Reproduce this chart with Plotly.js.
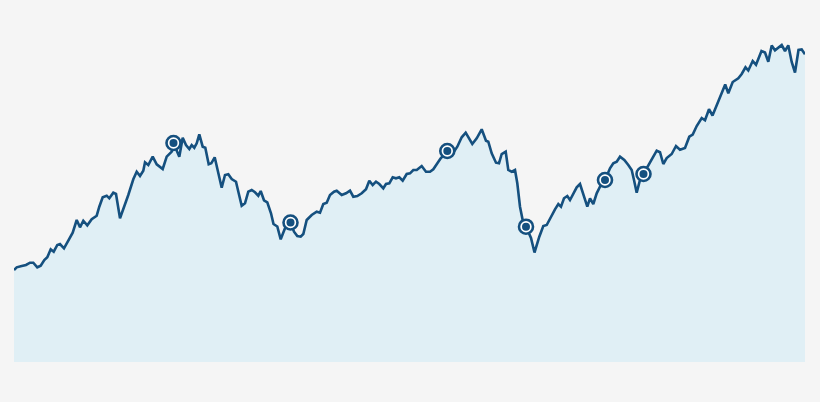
<!DOCTYPE html>
<html>
<head>
<meta charset="utf-8">
<script src="https://cdn.plot.ly/plotly-3.0.1.min.js"></script>
<style>
html,body{margin:0;padding:0;background:#f5f5f5;}
#chart{width:820px;height:402px;}
</style>
</head>
<body>
<div id="chart"></div>
<script>
// time index of each observation
var t = [14,16.7,21.7,26,30,33.3,37.3,40.7,44.3,47.3,50.7,53.7,57.3,60,64,68.3,72.7,76.7,80,83.3,87.3,91.7,96.7,99.3,102.7,106.7,109.3,113.3,116,120,123.3,128.3,133.3,136.7,140,143.3,145,148.3,152.7,156.7,162.7,166.7,171.7,173.5,179.3,182.7,186,189.3,191.7,194.3,196.7,199.3,202.7,205.3,208.7,211.3,214.7,218,221.7,225,228.3,231.7,236,238.7,241.7,245,248.3,251.7,255,258.3,260.7,264,267.3,271,273.5,277.3,280.7,285,290.5,294,297.3,300.7,303.3,306.7,311.7,316.7,320,323.3,326.7,330,334,336.7,341.7,346,350,353.3,357.3,361.7,366,369.3,372.7,376,379.3,383.3,386,389.3,392.7,396,399.3,402.7,406.7,410,413.3,416.7,421.7,426,430,433.3,437.3,440.7,447.3,454,457.3,461.7,465.7,469,472.3,476.7,481.7,486,488.3,491.7,496,499,501.7,505.7,508.3,511.7,515,517.3,520,523.3,526,531,534.5,539.3,543.3,546.7,550.7,555,558.3,561,564,567.3,570,573.3,576.7,580,583.3,587.3,590,593.3,596.7,600,605,610,613.3,616.7,620,624.3,628.3,631.7,634,636.7,640,643.5,650,653.3,656.7,660,663.3,666.7,671.7,676,680,685,689.3,692.7,696.7,701.7,705,709,712.5,716,720.5,725.2,728.3,732.7,738.3,741.7,745.5,748.3,752.7,756,761.5,765,768.3,771.7,775,778.3,781.7,785,788.3,791.7,795,798.5,801.7,805];
// series values
var values = [92,94.7,96,97,99.3,99.3,94.7,96.3,102,104.7,112.7,110.3,117,118,113.7,121.3,129.3,142,134.7,141.3,136.7,142.7,146.3,155.3,164.7,166.3,163.7,169.3,168,143.7,152.7,167,182.7,190.3,186,191.3,199.7,197,205.3,197.7,193,205.3,210.3,219,205.3,224.3,217,213,217,214.3,218.7,227.7,215.3,214.3,197.7,198.7,204.7,190.3,174.3,187,187.7,183,180.3,168.7,156.3,158.7,170.3,172,169.7,166.3,171,161.7,159.7,148.7,138,135.5,122.7,133.7,139.5,130.3,126,125.3,128,142,147,150.3,149.3,158,159.3,167,170.3,171.3,167,168.7,171.3,165.3,166,168.7,172.7,181.3,177,180.3,178,173.7,178,178.7,184.7,183.7,184.7,181.3,188,188.7,192,192,196,190.3,190.3,192.7,198,203.7,211,210.3,215.3,224.7,229.3,223.7,218,223.7,232.7,221.3,220.3,208.7,199.3,198.7,208,210.3,192,190.3,192,178.7,155.3,138.7,135.3,124,109.5,125.3,136,137,145.3,152.7,158,155.3,163.7,166,162,168,174.7,178,167,155.3,163.7,158,168.7,175.3,182,193.7,198.7,200.3,205.3,202,197,192,182,169.3,182,188,199,205.3,211.3,209.8,198,204,208,216,212.3,214,225.3,227.5,236,244,241.7,252.8,246.5,255,267,277.5,268.7,280,283.7,288,294.7,291.5,301,297.3,311,309.5,300.3,316.5,311.7,314,317,311,316.7,300,289.5,312,312.5,307.8];
// highlighted events (time index)
var eventT = [173.5,290.5,447.3,526,605,643.5];

var eventV = eventT.map(function(x){ return values[t.indexOf(x)]; });

var dark = '#15507f';
var traces = [
  {x:t, y:values, type:'scatter', mode:'lines', fill:'tozeroy',
   fillcolor:'#e0eff5', line:{color:dark, width:2.6, shape:'linear'}, hoverinfo:'skip'},
  {x:eventT, y:eventV, type:'scatter', mode:'markers',
   marker:{size:14, color:'#ffffff', line:{color:dark, width:2.6}}, hoverinfo:'skip'},
  {x:eventT, y:eventV, type:'scatter', mode:'markers',
   marker:{size:8, color:dark, line:{width:0}}, hoverinfo:'skip'}
];
var layout = {
  width:820, height:402,
  margin:{l:14, r:15, t:0, b:40, pad:0},
  paper_bgcolor:'#f5f5f5', plot_bgcolor:'#f5f5f5',
  showlegend:false,
  xaxis:{range:[14,805], visible:false, showgrid:false, zeroline:false, fixedrange:true},
  yaxis:{range:[0,362], visible:false, showgrid:false, zeroline:false, fixedrange:true}
};
Plotly.newPlot('chart', traces, layout, {displayModeBar:false, staticPlot:true});
</script>
</body>
</html>
